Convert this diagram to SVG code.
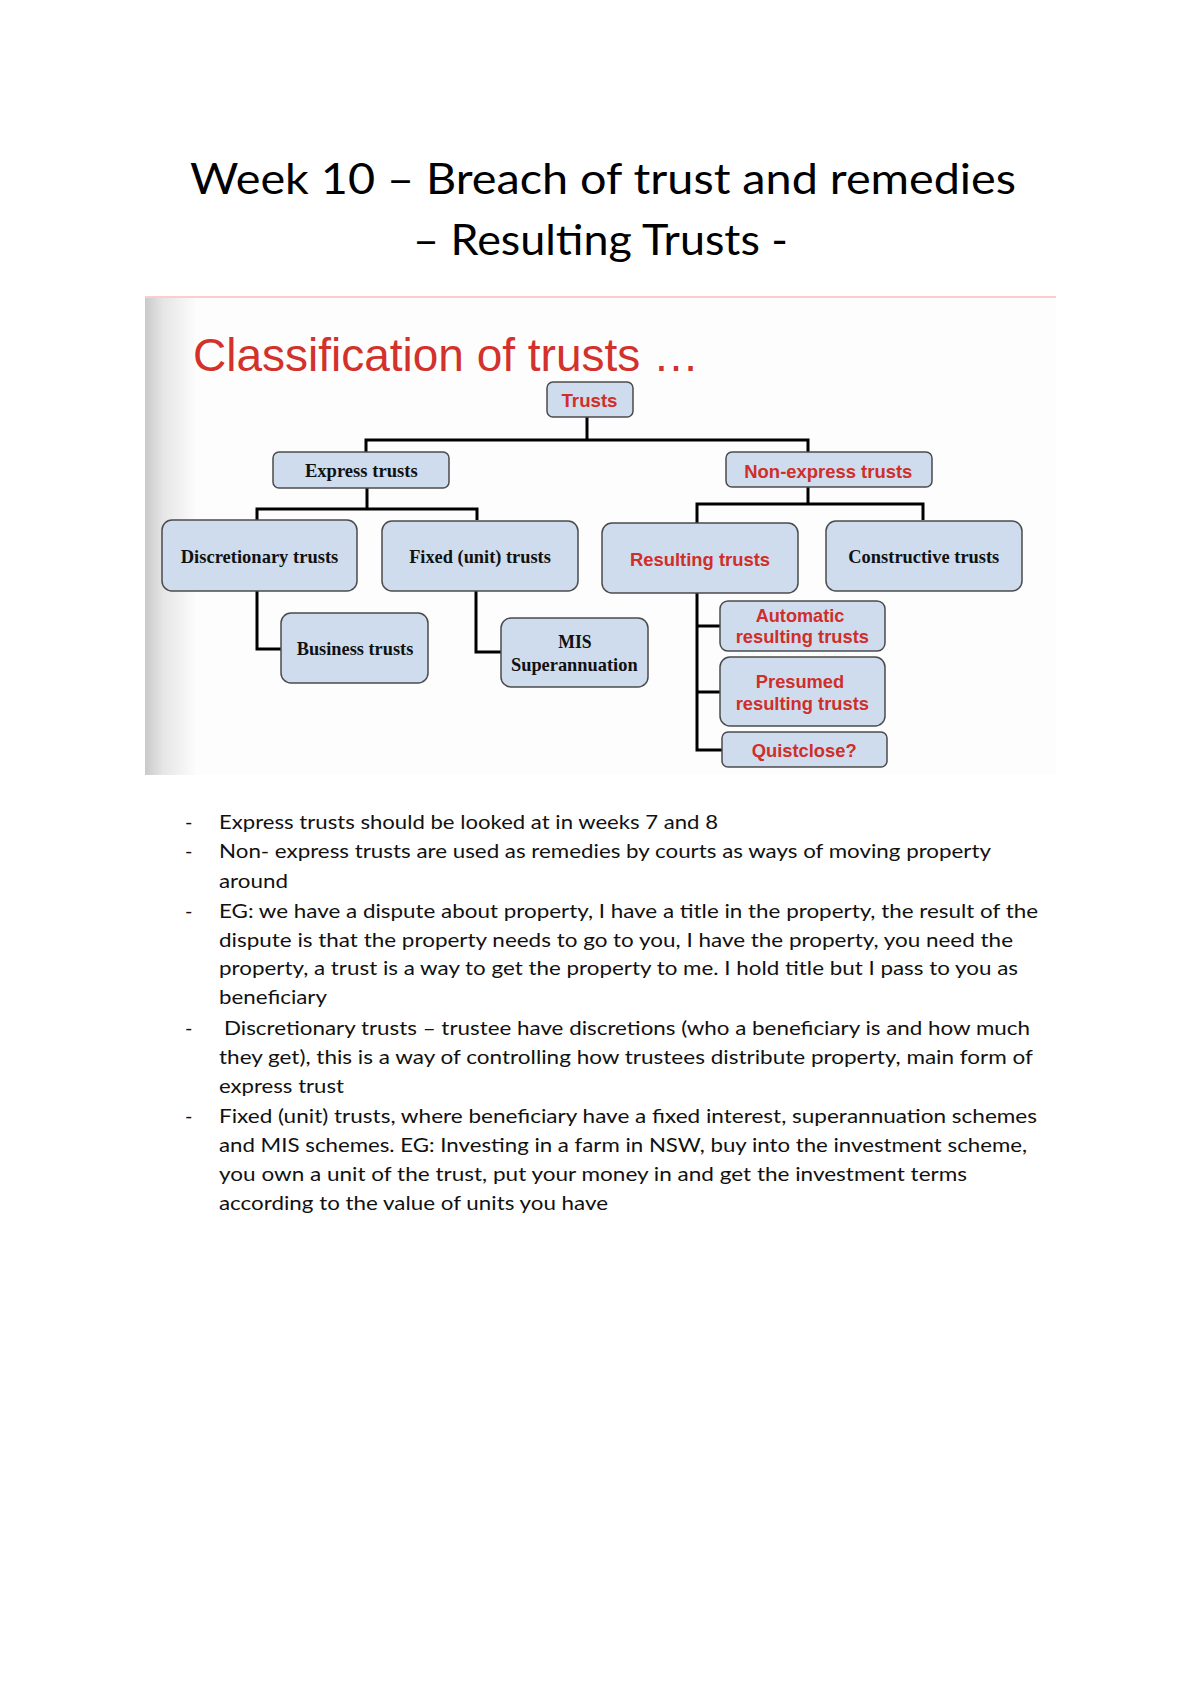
<svg xmlns="http://www.w3.org/2000/svg" width="1200" height="1698" viewBox="0 0 1200 1698">
<defs>
<linearGradient id="shade" x1="0" y1="0" x2="1" y2="0">
<stop offset="0" stop-color="#c9c9c9"/>
<stop offset="0.35" stop-color="#e6e6e6"/>
<stop offset="1" stop-color="#fdfdfd"/>
</linearGradient>
<style>
.title{font-family:Lato,"Liberation Sans",sans-serif;font-size:42px;fill:#000}
.body{font-family:Lato,"Liberation Sans",sans-serif;font-size:20px;fill:#111}
.slideTitle{font-family:"Liberation Sans",Arial,sans-serif;font-size:46px;fill:#d3312c}
.box{fill:#cedcee;stroke:#4b4b4b;stroke-width:1.5}
.red{font-family:"Liberation Sans",Arial,sans-serif;font-weight:bold;font-size:18.5px;fill:#cf2e29;text-anchor:middle}
.blk{font-family:"Liberation Serif","Times New Roman",serif;font-weight:bold;font-size:19px;fill:#111;text-anchor:middle}
.conn{fill:none;stroke:#000;stroke-width:3}
</style>
</defs>
<rect x="0" y="0" width="1200" height="1698" fill="#fff"/>

<text class="title" x="190" y="194" textLength="826" lengthAdjust="spacingAndGlyphs">Week 10 – Breach of trust and remedies</text>
<text class="title" x="413" y="255" textLength="375" lengthAdjust="spacingAndGlyphs">– Resulting Trusts -</text>

<line x1="145" y1="297" x2="1056" y2="297" stroke="#f8cfca" stroke-width="2"/>
<rect x="145" y="298" width="911" height="477" fill="#fdfdfd"/>
<rect x="145" y="298" width="52" height="477" fill="url(#shade)"/>

<text class="slideTitle" x="193" y="371" textLength="506" lengthAdjust="spacingAndGlyphs">Classification of trusts …</text>

<g id="connectors">
<path class="conn" d="M587,417 V440"/>
<path class="conn" d="M366,452 V440 H808 V452"/>
<path class="conn" d="M367,488 V509"/>
<path class="conn" d="M257,520 V509 H477 V520"/>
<path class="conn" d="M257,591 V649 H281"/>
<path class="conn" d="M476,591 V652 H501"/>
<path class="conn" d="M808,487 V504"/>
<path class="conn" d="M697,523 V504 H923 V520"/>
<path class="conn" d="M697,593 V750 H722"/>
<path class="conn" d="M697,626 H720"/>
<path class="conn" d="M697,692 H720"/>
</g>

<g id="node-trusts">
<rect class="box" x="547" y="382" width="86" height="35" rx="6"/>
<text class="red" x="589.5" y="407" textLength="56" lengthAdjust="spacingAndGlyphs">Trusts</text>
</g>
<g id="node-express">
<rect class="box" x="273" y="452" width="176" height="36" rx="6"/>
<text class="blk" x="361.3" y="477" textLength="112.7" lengthAdjust="spacingAndGlyphs">Express trusts</text>
</g>
<g id="node-nonexpress">
<rect class="box" x="726" y="452" width="206" height="35" rx="6"/>
<text class="red" x="828.3" y="478" textLength="168" lengthAdjust="spacingAndGlyphs">Non-express trusts</text>
</g>
<g id="node-discretionary">
<rect class="box" x="162" y="520" width="195" height="71" rx="10"/>
<text class="blk" x="259.5" y="563" textLength="157.6" lengthAdjust="spacingAndGlyphs">Discretionary trusts</text>
</g>
<g id="node-fixed">
<rect class="box" x="382" y="521" width="196" height="70" rx="10"/>
<text class="blk" x="480" y="563" textLength="141.7" lengthAdjust="spacingAndGlyphs">Fixed (unit) trusts</text>
</g>
<g id="node-resulting">
<rect class="box" x="602" y="523" width="196" height="70" rx="10"/>
<text class="red" x="700" y="565.7" textLength="140" lengthAdjust="spacingAndGlyphs">Resulting trusts</text>
</g>
<g id="node-constructive">
<rect class="box" x="826" y="521" width="196" height="70" rx="10"/>
<text class="blk" x="923.8" y="563" textLength="151" lengthAdjust="spacingAndGlyphs">Constructive trusts</text>
</g>
<g id="node-business">
<rect class="box" x="281" y="613" width="147" height="70" rx="10"/>
<text class="blk" x="355" y="655" textLength="116.6" lengthAdjust="spacingAndGlyphs">Business trusts</text>
</g>
<g id="node-mis">
<rect class="box" x="501" y="618" width="147" height="69" rx="10"/>
<text class="blk" x="575" y="648" textLength="33.4" lengthAdjust="spacingAndGlyphs">MIS</text>
<text class="blk" x="574.3" y="670.7" textLength="126.7" lengthAdjust="spacingAndGlyphs">Superannuation</text>
</g>
<g id="node-automatic">
<rect class="box" x="720" y="601" width="165" height="50" rx="8"/>
<text class="red" x="800" y="622" textLength="88.6" lengthAdjust="spacingAndGlyphs">Automatic</text>
<text class="red" x="802.3" y="643.3" textLength="133.3" lengthAdjust="spacingAndGlyphs">resulting trusts</text>
</g>
<g id="node-presumed">
<rect class="box" x="720" y="657" width="165" height="69" rx="10"/>
<text class="red" x="800" y="687.7" textLength="88.3" lengthAdjust="spacingAndGlyphs">Presumed</text>
<text class="red" x="802.3" y="710" textLength="133.3" lengthAdjust="spacingAndGlyphs">resulting trusts</text>
</g>
<g id="node-quistclose">
<rect class="box" x="722" y="732" width="165" height="35" rx="6"/>
<text class="red" x="804.2" y="756.7" textLength="105" lengthAdjust="spacingAndGlyphs">Quistclose?</text>
</g>

<g id="notes">
<text class="body" x="185" y="829.3">-</text>
<text class="body" x="219" y="829.3" textLength="499" lengthAdjust="spacingAndGlyphs">Express trusts should be looked at in weeks 7 and 8</text>
<text class="body" x="185" y="858.3">-</text>
<text class="body" x="219" y="858.3" textLength="772" lengthAdjust="spacingAndGlyphs">Non- express trusts are used as remedies by courts as ways of moving property</text>
<text class="body" x="219" y="887.5" textLength="69" lengthAdjust="spacingAndGlyphs">around</text>
<text class="body" x="185" y="918">-</text>
<text class="body" x="219" y="918" textLength="819" lengthAdjust="spacingAndGlyphs">EG: we have a dispute about property, I have a title in the property, the result of the</text>
<text class="body" x="219" y="946.7" textLength="794" lengthAdjust="spacingAndGlyphs">dispute is that the property needs to go to you, I have the property, you need the</text>
<text class="body" x="219" y="975.3" textLength="799" lengthAdjust="spacingAndGlyphs">property, a trust is a way to get the property to me. I hold title but I pass to you as</text>
<text class="body" x="219" y="1004" textLength="108" lengthAdjust="spacingAndGlyphs">beneficiary</text>
<text class="body" x="185" y="1034.5">-</text>
<text class="body" x="224" y="1034.5" textLength="806" lengthAdjust="spacingAndGlyphs">Discretionary trusts – trustee have discretions (who a beneficiary is and how much</text>
<text class="body" x="219" y="1063.5" textLength="814" lengthAdjust="spacingAndGlyphs">they get), this is a way of controlling how trustees distribute property, main form of</text>
<text class="body" x="219" y="1093" textLength="125" lengthAdjust="spacingAndGlyphs">express trust</text>
<text class="body" x="185" y="1123">-</text>
<text class="body" x="219" y="1123" textLength="818" lengthAdjust="spacingAndGlyphs">Fixed (unit) trusts, where beneficiary have a fixed interest, superannuation schemes</text>
<text class="body" x="219" y="1151.7" textLength="808" lengthAdjust="spacingAndGlyphs">and MIS schemes. EG: Investing in a farm in NSW, buy into the investment scheme,</text>
<text class="body" x="219" y="1180.5" textLength="748" lengthAdjust="spacingAndGlyphs">you own a unit of the trust, put your money in and get the investment terms</text>
<text class="body" x="219" y="1210" textLength="389" lengthAdjust="spacingAndGlyphs">according to the value of units you have</text>
</g>
</svg>
